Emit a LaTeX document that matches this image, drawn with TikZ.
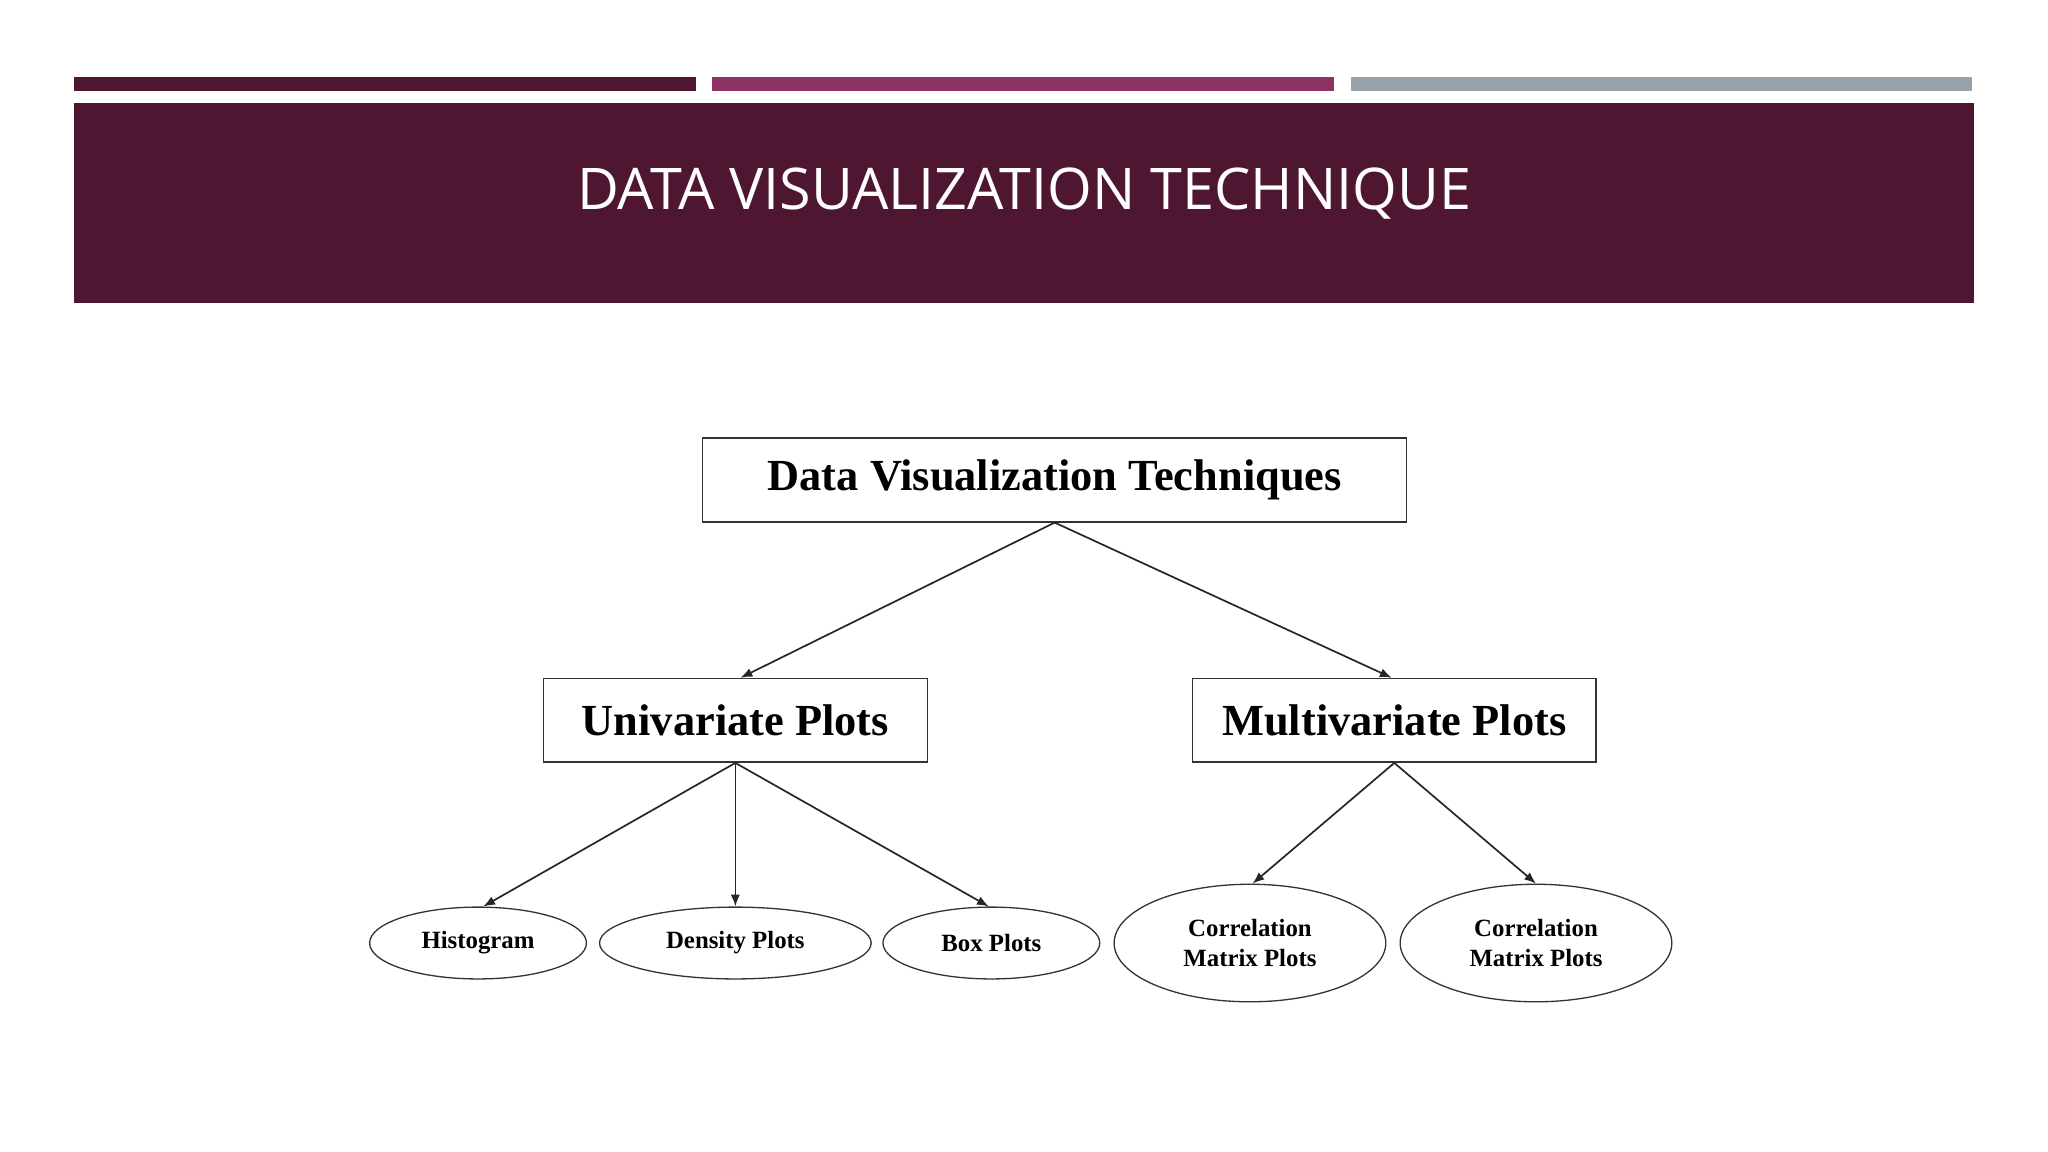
\documentclass[tikz,border=0pt]{standalone}
\usepackage{fontspec}
\setmainfont{Liberation Serif}
\newfontfamily\titlefont{Open Sans}
\usetikzlibrary{arrows.meta}
\definecolor{plum}{HTML}{4F1632}
\definecolor{berry}{HTML}{8E3166}
\definecolor{slate}{HTML}{97A1A9}
\tikzset{
  box/.style={draw=black!80, line width=1.2pt, minimum height=64pt, font=\fontsize{34}{40}\selectfont\bfseries, inner sep=0pt},
  oval/.style={ellipse, draw=black!80, line width=1pt, font=\fontsize{19}{23}\selectfont\bfseries, inner sep=0pt, align=center},
  link/.style={line width=1.3pt, draw=black!85, -{Latex[length=9pt,width=7pt]}}
}
\usetikzlibrary{shapes.geometric}
\begin{document}
\begin{tikzpicture}[x=1pt,y=-1pt]
\useasboundingbox[fill=white] (0,0) rectangle (1568,882);
\fill[plum] (57,59) rectangle (533,70);
\fill[berry] (545,59) rectangle (1021,70);
\fill[slate] (1034,59) rectangle (1510,70);
\fill[plum] (57,79) rectangle (1511,232);
\node[text=white, font=\titlefont\fontsize{44}{50}\selectfont] (title) at (784,148) {DATA VISUALIZATION TECHNIQUE};

\node[box, minimum width=539pt] (top) at (807.5,367.5) {Data Visualization Techniques};
\node[box, minimum width=294pt] (uni) at (563,551.5) {Univariate Plots};
\node[box, minimum width=309pt] (multi) at (1067.5,551.5) {Multivariate Plots};

\node[oval, minimum width=166pt, minimum height=55pt] (hist) at (366,722) {Histogram};
\node[oval, minimum width=208pt, minimum height=55pt] (dens) at (563,722) {Density Plots};
\node[oval, minimum width=166pt, minimum height=55pt] (boxp) at (759,722) {Box Plots};
\node[oval, minimum width=208pt, minimum height=90pt] (corr1) at (957,722) {Correlation\\Matrix Plots};
\node[oval, minimum width=208pt, minimum height=90pt] (corr2) at (1176,722) {Correlation\\Matrix Plots};

\draw[link] (top.south) -- ([xshift=4pt]uni.north);
\draw[link] (top.south) -- ([xshift=-2pt]multi.north);
\draw[link] (uni.south) -- ([xshift=4pt]hist.north);
\draw[link] (uni.south) -- (dens.north);
\draw[link] (uni.south) -- ([xshift=-2pt]boxp.north);
\draw[link] (multi.south) -- ([xshift=2pt]corr1.north);
\draw[link] (multi.south) -- (corr2.north);
\end{tikzpicture}
\end{document}
